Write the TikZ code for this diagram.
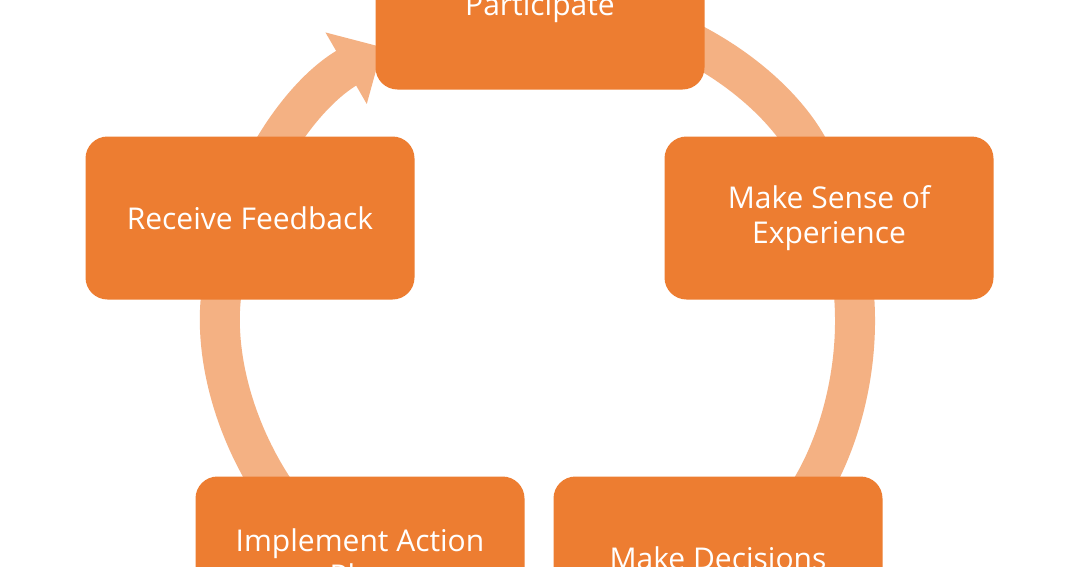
\documentclass[tikz,border=0pt]{standalone}
\usepackage{fontspec}
\setmainfont{Open Sans}
\usetikzlibrary{arrows.meta}
\definecolor{boxc}{RGB}{237,125,49}
\definecolor{ringc}{RGB}{244,177,131}
\begin{document}
\begin{tikzpicture}[x=1pt,y=-1pt,
  box/.style={fill=boxc,rounded corners=22pt,minimum width=329pt,minimum height=163pt,
    text=white,align=center,font=\fontsize{30}{35}\selectfont,inner sep=0pt},
  ring/.style={draw=ringc,line width=40pt,-{Triangle[width=80pt,length=42pt]}}]
\useasboundingbox (0,0) rectangle (1079,566);
\clip (0,0) rectangle (1079,566);
\fill[white] (0,0) rectangle (1079,566);
\coordinate (c) at (540,320);
\def\R{315}
\draw[ring] ([shift={(-170:\R)}]c) arc[start angle=-170,end angle=-120,radius=\R];
\draw[ring] ([shift={(-80:\R)}]c) arc[start angle=-80,end angle=-23,radius=\R];
\draw[ring] ([shift={(-5:\R)}]c) arc[start angle=-5,end angle=48,radius=\R];
\draw[ring] ([shift={(64:\R)}]c) arc[start angle=64,end angle=116,radius=\R];
\draw[ring] ([shift={(132:\R)}]c) arc[start angle=132,end angle=197,radius=\R];
\node[box] (p) at (540,8) {Participate};
\node[box] (s) at (829,218) {Make Sense of\\Experience};
\node[box] (d) at (718,558) {Make Decisions};
\node[box] (i) at (360,558) {Implement Action\\Plan};
\node[box] (r) at (250,218) {Receive Feedback};
\end{tikzpicture}
\end{document}
